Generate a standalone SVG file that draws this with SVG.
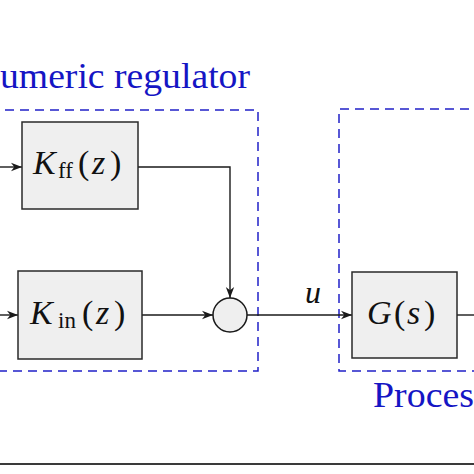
<svg xmlns="http://www.w3.org/2000/svg" width="474" height="474" viewBox="0 0 474 474">
<style>
.blk{fill:#efefef;stroke:#2a2a2a;stroke-width:1.5}
.wire{fill:none;stroke:#1a1a1a;stroke-width:1.4}
.dash{fill:none;stroke:#2020c8;stroke-width:1.5;stroke-dasharray:9 6}
.m{font-family:"Liberation Serif","DejaVu Serif",serif;fill:#111}
.i{font-style:italic}
.lbl{font-family:"Liberation Serif","DejaVu Serif",serif;fill:#1515c4;font-size:35px}
</style>
<defs>
<marker id="arr" viewBox="0 0 10 10" refX="10" refY="5" markerWidth="11" markerHeight="11" markerUnits="userSpaceOnUse" orient="auto">
<path d="M0,1.2 L10,5 L0,8.8 L3,5 Z" fill="#1a1a1a"/>
</marker>
</defs>
<rect width="474" height="474" fill="#ffffff"/>
<g id="regulator-frame">
<path class="dash" d="M-10,110 H258 V371 H-10"/>
<text class="lbl" x="0" y="88" textLength="250" lengthAdjust="spacingAndGlyphs">umeric regulator</text>
</g>
<g id="process-frame">
<path class="dash" d="M484,109 H339 V371 H484"/>
<text class="lbl" x="373" y="407" textLength="101" lengthAdjust="spacingAndGlyphs">Proces</text>
</g>
<g id="connectors">
<line class="wire" x1="0" y1="167" x2="22" y2="167" marker-end="url(#arr)"/>
<line class="wire" x1="0" y1="315" x2="18" y2="315" marker-end="url(#arr)"/>
<polyline class="wire" points="138,167 230,167 230,298" marker-end="url(#arr)"/>
<line class="wire" x1="142" y1="315" x2="213" y2="315" marker-end="url(#arr)"/>
<line class="wire" x1="247" y1="315" x2="352" y2="315" marker-end="url(#arr)"/>
<line class="wire" x1="457" y1="315" x2="474" y2="315"/>
<text class="m i" x="305" y="303" font-size="32">u</text>
</g>
<g id="Kff">
<rect class="blk" x="22" y="122" width="116" height="87"/>
<text class="m" font-size="34" y="174"><tspan class="i" x="33">K</tspan><tspan x="58" y="178" font-size="23">ff</tspan><tspan x="78" y="174">(</tspan><tspan class="i" x="92">z</tspan><tspan x="110">)</tspan></text>
</g>
<g id="Kin">
<rect class="blk" x="18" y="271" width="124" height="88"/>
<text class="m" font-size="34" y="324"><tspan class="i" x="30">K</tspan><tspan x="58" y="328" font-size="23">in</tspan><tspan x="82" y="324">(</tspan><tspan class="i" x="96">z</tspan><tspan x="114">)</tspan></text>
</g>
<g id="sum">
<circle cx="230" cy="315" r="17" fill="#efefef" stroke="#1a1a1a" stroke-width="1.5"/>
</g>
<g id="G">
<rect class="blk" x="352" y="272" width="105" height="86"/>
<text class="m" font-size="34" y="324"><tspan class="i" x="367">G</tspan><tspan x="394">(</tspan><tspan class="i" x="407">s</tspan><tspan x="424">)</tspan></text>
</g>
<line x1="0" y1="464" x2="474" y2="464" stroke="#3a3a3a" stroke-width="2"/>
</svg>
